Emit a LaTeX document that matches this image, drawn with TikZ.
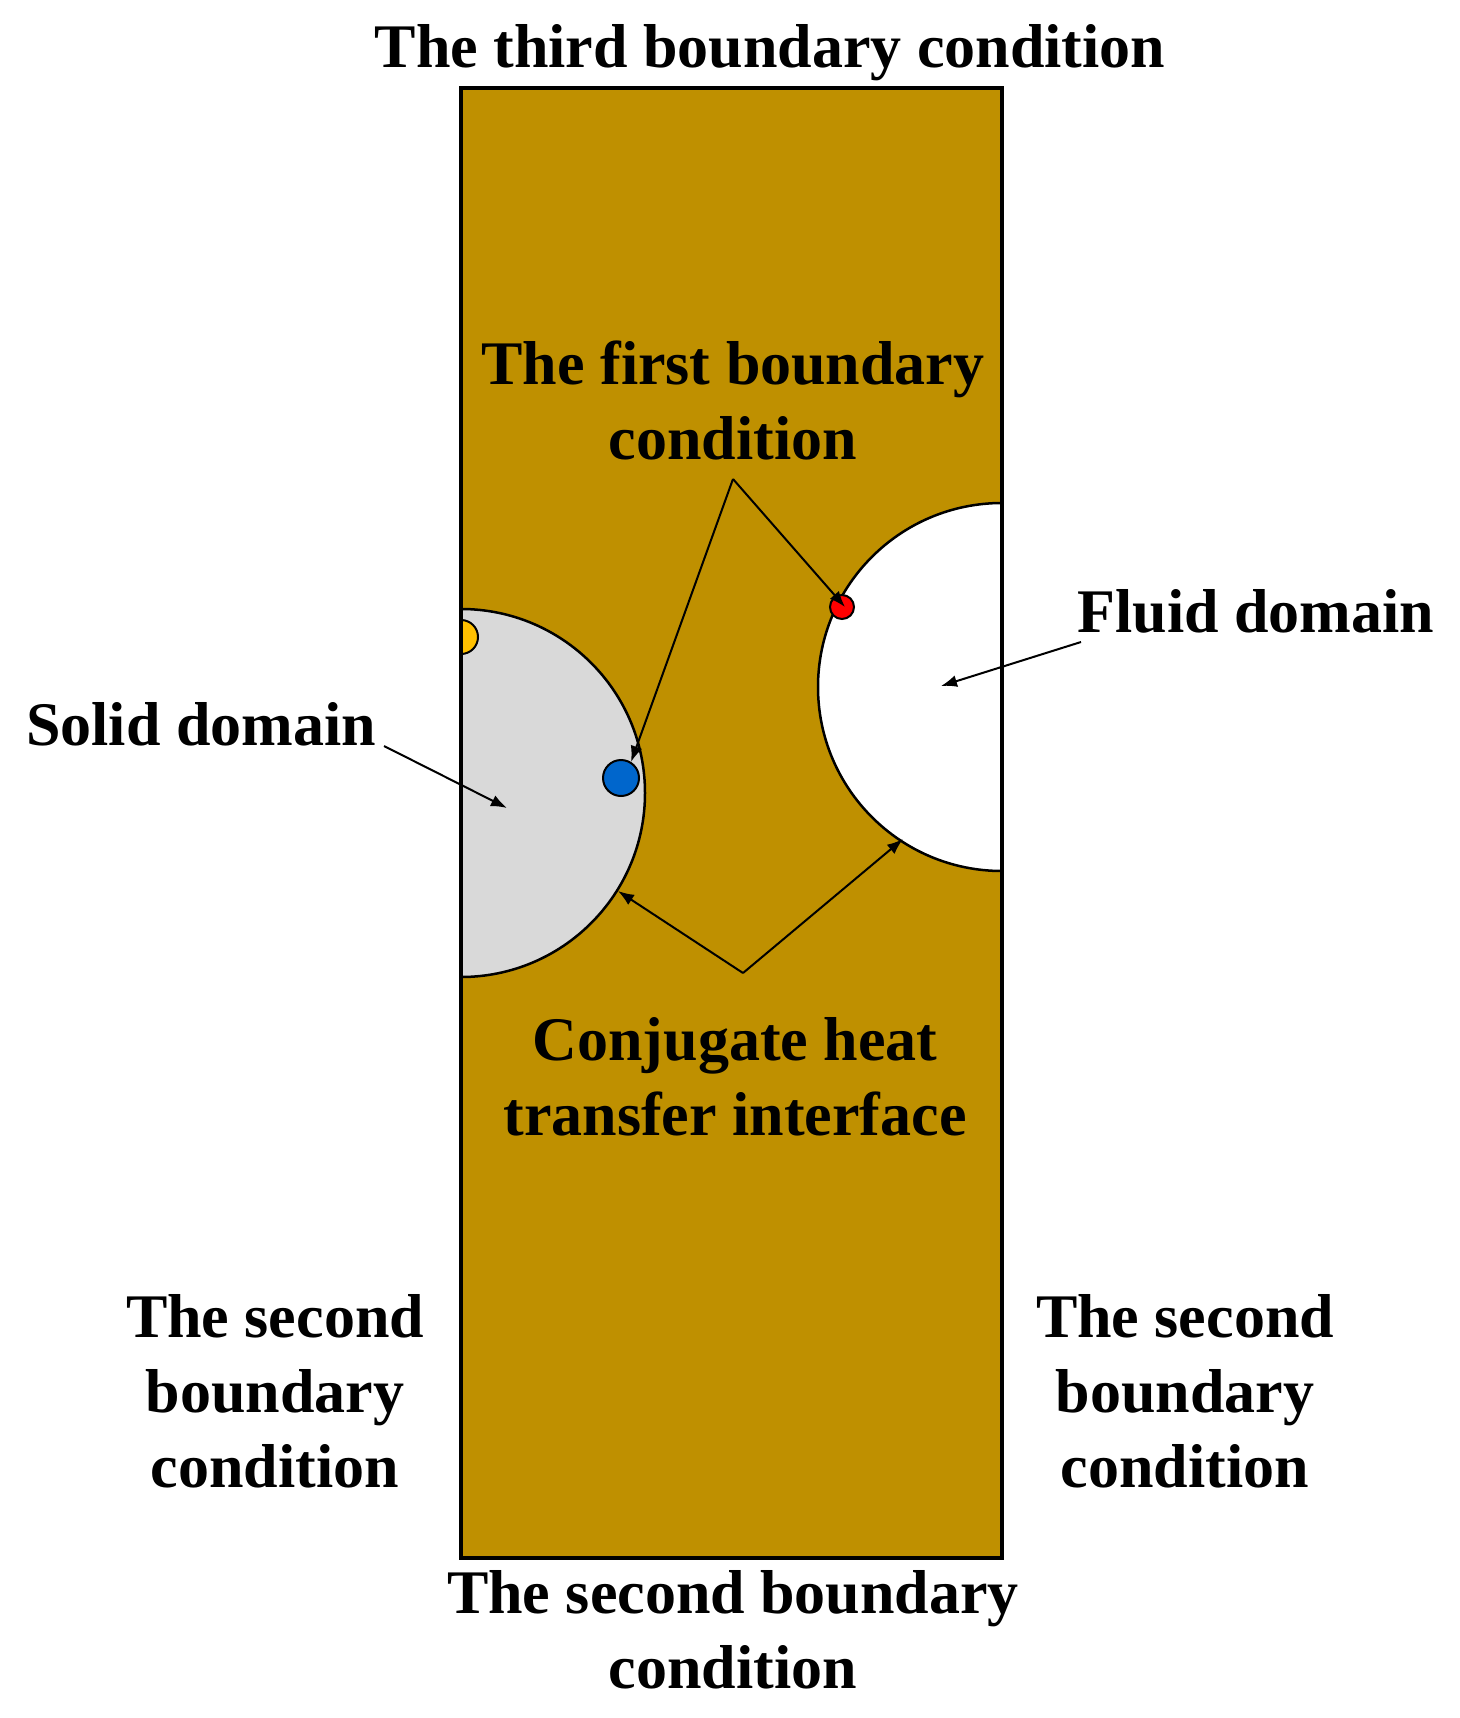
\documentclass[tikz,border=0pt]{standalone}
\usepackage{fontspec}
\setmainfont{Liberation Serif}
\usetikzlibrary{arrows.meta}
\begin{document}
\begin{tikzpicture}[x=1pt,y=-1pt,
 lab/.style={font=\fontsize{62}{75}\selectfont\bfseries,align=center,inner sep=0},
 arr/.style={line width=2pt,-{Latex[length=16pt,width=12pt]}}]
\useasboundingbox (0,0) rectangle (1459,1718);
\fill[white] (0,0) rectangle (1459,1718);
\fill[fill={rgb,255:red,191;green,144;blue,0}] (461,88) rectangle (1002,1558);
\begin{scope}
\clip (461,88) rectangle (1002,1558);
\draw[line width=2.5pt,fill={rgb,255:red,217;green,217;blue,217}] (461,793) circle (184);
\draw[line width=2.5pt,fill=white] (1002,687) circle (184);
\draw[line width=2pt,fill={rgb,255:red,255;green,192;blue,0}] (461,637) circle (17);
\end{scope}
\draw[line width=3.5pt] (461,88) rectangle (1002,1558);
\node[circle,draw,line width=2pt,fill={rgb,255:red,0;green,102;blue,204},minimum size=36pt,inner sep=0] (blue) at (621,778) {};
\node[circle,draw,line width=2pt,fill=red,minimum size=24pt,inner sep=0] (red) at (842,607) {};
\node[lab] (third) at (770,53) {The third boundary condition};
\node[lab] (first) at (733,400) {The first boundary\\condition};
\node[lab] (fluid) at (1256,611) {Fluid domain};
\node[lab] (solid) at (201,724) {Solid domain};
\node[lab] (conj) at (735,1077) {Conjugate heat\\transfer interface};
\node[lab] (l2) at (275,1391) {The second\\boundary\\condition};
\node[lab] (r2) at (1185,1391) {The second\\boundary\\condition};
\node[lab] (b2) at (733,1630) {The second boundary\\condition};
\coordinate (fa) at (733,479);
\coordinate (ca) at (743,973);
\draw[arr] (fa) -- (631,762);
\draw[arr] (fa) -- (845,607);
\draw[arr] (384,746) -- (507,808);
\draw[arr] (1081,642) -- (941,686);
\draw[arr] (ca) -- (618,891);
\draw[arr] (ca) -- (903,839);
\end{tikzpicture}
\end{document}
